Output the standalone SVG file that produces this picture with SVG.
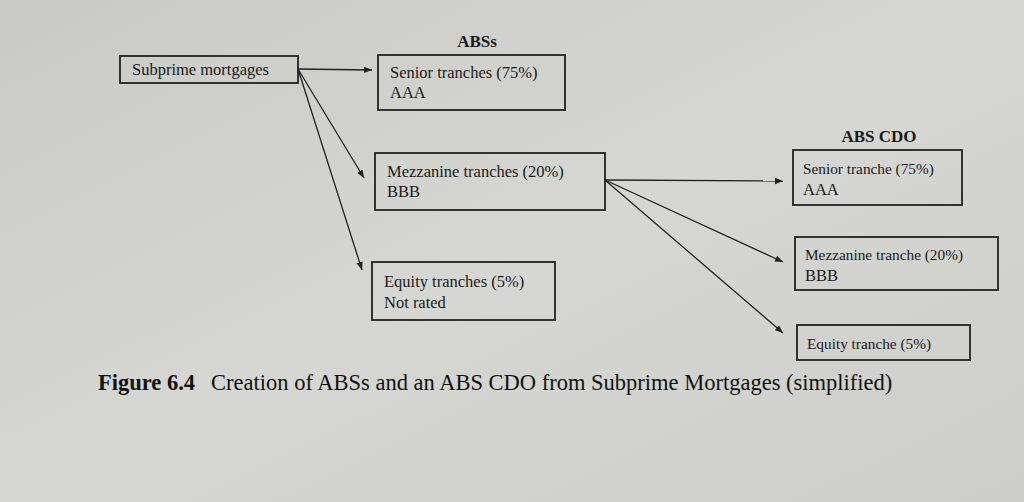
<svg xmlns="http://www.w3.org/2000/svg" width="1024" height="502" viewBox="0 0 1024 502">
<defs>
<linearGradient id="bg" x1="0" y1="0" x2="1" y2="1">
<stop offset="0" stop-color="#c9c9c6"/><stop offset="0.5" stop-color="#d6d6d3"/><stop offset="1" stop-color="#cdcdca"/>
</linearGradient>
<marker id="ar" viewBox="0 0 10 10" refX="10" refY="5" markerWidth="8" markerHeight="8" orient="auto" markerUnits="userSpaceOnUse"><path d="M0,1 L10,5 L0,9 Z" fill="#222"/></marker>
<style>
.b{fill:none;stroke:#222;stroke-width:1.8}
.t{font-family:"Liberation Serif",serif;font-size:16.5px;fill:#1a1a1a}
.s{font-size:15.3px}
.h{font-family:"Liberation Serif",serif;font-size:17px;font-weight:bold;fill:#1a1a1a}
.c{stroke:#222;stroke-width:1.3;fill:none;marker-end:url(#ar)}
</style>
</defs>
<rect width="1024" height="502" fill="url(#bg)"/>
<text class="h" x="477" y="47" text-anchor="middle">ABSs</text>
<text class="h" x="879" y="142" text-anchor="middle">ABS CDO</text>
<g id="subprime"><rect class="b" x="120" y="56" width="178" height="27"/><text class="t" x="132" y="75">Subprime mortgages</text></g>
<g id="senior"><rect class="b" x="378" y="55" width="187" height="55"/><text class="t" x="390" y="78">Senior tranches (75%)</text><text class="t" x="390" y="98">AAA</text></g>
<g id="mezz"><rect class="b" x="375" y="153" width="230" height="57"/><text class="t" x="387" y="177">Mezzanine tranches (20%)</text><text class="t" x="387" y="197">BBB</text></g>
<g id="equity"><rect class="b" x="372" y="262" width="183" height="58"/><text class="t" x="384" y="287">Equity tranches (5%)</text><text class="t" x="384" y="308">Not rated</text></g>
<g id="cdoSenior"><rect class="b" x="793" y="150" width="169" height="55"/><text class="t s" x="803" y="174">Senior tranche (75%)</text><text class="t" x="803" y="195">AAA</text></g>
<g id="cdoMezz"><rect class="b" x="795" y="237" width="203" height="53"/><text class="t s" x="805" y="260">Mezzanine tranche (20%)</text><text class="t" x="805" y="281">BBB</text></g>
<g id="cdoEquity"><rect class="b" x="797" y="325" width="173" height="35"/><text class="t s" x="807" y="349">Equity tranche (5%)</text></g>
<g id="connectors">
<line class="c" x1="298" y1="69" x2="372" y2="70"/>
<line class="c" x1="298" y1="69" x2="364" y2="178"/>
<line class="c" x1="298" y1="69" x2="362" y2="270"/>
<line class="c" x1="605" y1="180" x2="783" y2="181"/>
<line class="c" x1="605" y1="180" x2="783" y2="262"/>
<line class="c" x1="605" y1="180" x2="783" y2="333"/>
</g>
<text x="98" y="390" font-family="Liberation Serif,serif" font-size="22.5" fill="#111"><tspan font-weight="bold">Figure 6.4</tspan><tspan dx="16">Creation of ABSs and an ABS CDO from Subprime Mortgages (simplified)</tspan></text>
</svg>
